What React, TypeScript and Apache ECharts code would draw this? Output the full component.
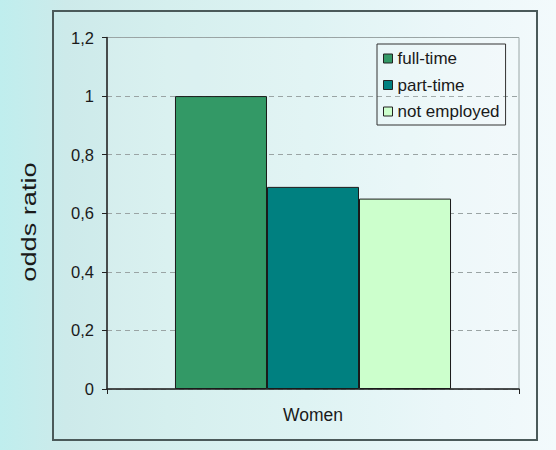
import React, { useEffect, useRef } from "react";
import * as echarts from "echarts";

const categories = ["Women"];
const seriesNames = ["full-time", "part-time", "not employed"];
const fullTime = [1.0];
const partTime = [0.69];
const notEmployed = [0.65];
const seriesColors = ["#339966", "#008080", "#CCFFCC"];
const yTicks = { min: 0, max: 1.2, interval: 0.2 };
const axisTitle = "odds ratio";

const FONT = 'Arial, "Liberation Sans", Helvetica, sans-serif';

export default function App() {
  const ref = useRef<HTMLDivElement>(null);
  useEffect(() => {
    if (!ref.current) return;
    const chart = echarts.init(ref.current, null, { renderer: "svg" });
    const values = [fullTime, partTime, notEmployed];
    chart.setOption({
      animation: false,
      backgroundColor: "transparent",
      textStyle: { fontFamily: FONT },
      grid: {
        left: 107,
        right: 37,
        top: 37.5,
        bottom: 61,
        containLabel: false,
        show: true,
        borderColor: "#9aa6a6",
        borderWidth: 1,
        backgroundColor: "rgba(255,255,255,0.12)",
      },
      legend: {
        orient: "vertical",
        left: 377,
        top: 44,
        padding: [6, 6, 5, 6],
        itemGap: 9.5,
        itemWidth: 9,
        itemHeight: 9,
        icon: "rect",
        borderColor: "#333",
        borderWidth: 1,
        backgroundColor: "rgba(255,255,255,0.08)",
        itemStyle: { borderColor: "#222", borderWidth: 1 },
        textStyle: { fontSize: 17, color: "#1a1a1a", fontFamily: FONT, lineHeight: 17 },
        data: seriesNames,
      },
      xAxis: {
        type: "category",
        data: categories,
        axisLine: { lineStyle: { color: "#222", width: 1.5 } },
        axisTick: { show: true, length: 5, alignWithLabel: false, lineStyle: { color: "#222" } },
        axisLabel: { fontSize: 17.5, color: "#1a1a1a", margin: 17, fontFamily: FONT },
        splitLine: { show: false },
      },
      yAxis: {
        type: "value",
        min: yTicks.min,
        max: yTicks.max,
        interval: yTicks.interval,
        axisLine: { show: true, lineStyle: { color: "#222", width: 1.5 } },
        axisTick: { show: true, length: 5, lineStyle: { color: "#222" } },
        axisLabel: {
          fontSize: 16.5,
          color: "#1a1a1a",
          margin: 13,
          fontFamily: FONT,
          formatter: (v: number) => String(+v.toFixed(1)).replace(".", ","),
        },
        splitLine: { show: true, lineStyle: { color: "#9aa4a4", type: [5, 4], width: 1 } },
      },
      graphic: [
        {
          type: "rect",
          shape: { x: 53, y: 11, width: 484, height: 429 },
          style: { fill: "none", stroke: "#4b5a5a", lineWidth: 2 },
          silent: true,
        },
        {
          type: "text",
          x: 29,
          y: 222,
          rotation: Math.PI / 2,
          scaleX: 1.36,
          style: {
            text: axisTitle,
            fontSize: 20,
            fontFamily: FONT,
            fill: "#1a1a1a",
            align: "center",
            verticalAlign: "middle",
          },
          silent: true,
        },
      ],
      series: seriesNames.map((name, i) => ({
        name,
        type: "bar",
        data: values[i],
        barGap: "0%",
        barCategoryGap: "33%",
        itemStyle: { color: seriesColors[i], borderColor: "#1a1a1a", borderWidth: 1 },
      })),
    });
    return () => chart.dispose();
  }, []);
  return (
    <div
      style={{
        position: "fixed",
        left: 0,
        top: 0,
        width: 556,
        height: 450,
        background:
          "linear-gradient(90deg, #bfeeee 0%, #cdeaea 12%, #d5efee 30%, #def3f3 55%, #ebf7f9 80%, #f3fafc 100%)",
      }}
    >
      <div ref={ref} style={{ width: 556, height: 450 }} />
    </div>
  );
}
